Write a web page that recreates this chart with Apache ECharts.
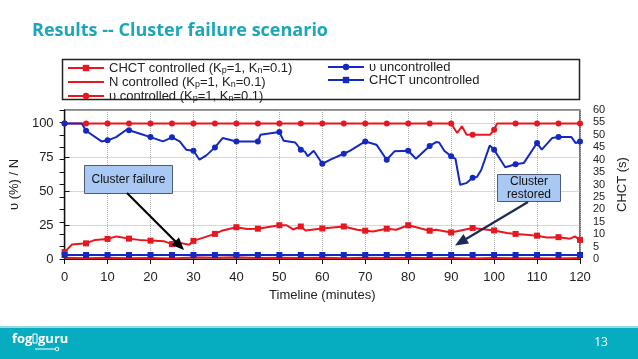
<!DOCTYPE html>
<html><head><meta charset="utf-8">
<script src="https://cdn.jsdelivr.net/npm/echarts@6/dist/echarts.min.js"></script>
<style>html,body{margin:0;padding:0;background:#fff}#c{width:638px;height:359px}</style>
</head><body><div id="c"></div>
<script>
// ---- data ----
const xTicks = [0,10,20,30,40,50,60,70,80,90,100,110,120];
// CHCT controlled (s, right axis)
const chctControlled = [[0,2.8],[1.7,5.8],[5,6.3],[7.1,7.7],[10,8.1],[12.1,9.1],[15,8.2],[17.4,7.7],[20,7.4],[23.2,7.1],[25,6.0],[27.2,6.4],[29,5.7],[30,7.3],[35,10.1],[36.8,11.5],[40,12.8],[42.5,12.1],[45,12.2],[50,13.6],[51.7,13.6],[53.2,11.9],[55,13.1],[56.1,11.5],[60,12.3],[65,13.1],[68.1,11.8],[70,11.4],[71.8,11.1],[75,12.2],[77.2,11.8],[80,13.6],[81.4,13.0],[85,11.4],[86.5,11.8],[90,10.7],[95,12.5],[100,11.5],[103,10.5],[105,10.1],[107.5,9.8],[110,9.4],[112.3,8.7],[115,8.8],[117.7,8.2],[118.8,9.1],[120,7.7]];
// N controlled (left axis)
const nControlled = [[0,1],[5,0.5],[10,1],[15,0.5],[20,0.8],[25,0.3],[30,1.2],[35,1],[40,1.3],[45,0.8],[50,1],[55,0.8],[60,1],[65,0.6],[70,1],[75,0.7],[80,1],[85,0.6],[90,0.8],[95,0.3],[100,0.8],[105,0.5],[110,0.6],[115,0.3],[120,0.8]];
// υ controlled (%, left axis)
const uControlled = [[0,100],[5,100],[10,100],[15,100],[20,100],[25,100],[30,100],[35,100],[40,100],[45,100],[50,100],[55,100],[60,100],[65,100],[70,100],[75,100],[80,100],[85,100],[90,100],[91.4,93],[92.5,98],[93.6,91.7],[95,91.7],[99,91.7],[100,95.4],[100.7,100],[105,100],[110,100],[115,100],[120,100]];
// υ uncontrolled (%, left axis)
const uUncontrolled = [[0,100],[4,100],[5,94.7],[8.6,86.8],[10,87.6],[12,90],[14.4,95.4],[15,95],[17.4,92.6],[20,90],[22.9,86.8],[25,89.8],[26.8,86.8],[28.3,80.7],[30,79.9],[31.4,73.3],[33,76.5],[35,82.4],[36.8,89.3],[40,86.8],[45,86.8],[45.6,91.7],[50,93.7],[51,87.3],[53.7,86],[55,80.7],[56,79],[56.6,75.8],[58,79.9],[60,70.3],[62,73.5],[65,77.7],[66.4,79.9],[70,86.8],[72.6,84.4],[75,73.3],[76.8,79.5],[80,79.9],[81.8,74],[85,83.5],[86.5,86.3],[87.2,86],[88.4,79.9],[90,75.8],[91,74],[92.1,54.8],[93.5,56],[95,60],[96,60.5],[97,65.7],[99,83.9],[100,80.7],[102.6,67.7],[105,70],[106.9,70.8],[110,85.6],[111.1,80.7],[113.5,89.3],[115,90],[118,90],[119,85.6],[120,86.8]];
// CHCT uncontrolled (s, right axis)
const chctUncontrolled = [[0,1.6],[5,1.6],[10,1.6],[15,1.6],[20,1.6],[25,1.6],[30,1.6],[35,1.6],[40,1.6],[45,1.6],[50,1.6],[55,1.6],[60,1.6],[65,1.6],[70,1.6],[75,1.6],[80,1.6],[85,1.6],[90,1.6],[95,1.6],[100,1.6],[105,1.6],[110,1.6],[115,1.6],[120,1.6]];
const leftTicks = [0,25,50,75,100];
const rightTicks = [0,5,10,15,20,25,30,35,40,45,50,55,60];

const names = ['CHCT controlled (Kp=1, Kn=0.1)','N controlled (Kp=1, Kn=0.1)','υ controlled (Kp=1, Kn=0.1)','υ uncontrolled','CHCT uncontrolled'];

// ---- chart ----
const RED = '#e8171f', BLUE = '#1429c2';
const FF = 'Liberation Sans';
const chart = echarts.init(document.getElementById('c'), null, {renderer:'canvas'});
const markSize = v => (Math.abs(v[0] % 5) < 1e-9 ? 6 : 0);
function lineSeries(name, data, color, symbol, yIdx){
  return {name, type:'line', data, yAxisIndex:yIdx, xAxisIndex:0,
    symbol, symbolSize: symbol==='none'?0:markSize, showSymbol: symbol!=='none',
    lineStyle:{color, width:2}, itemStyle:{color}, animation:false, z: 3};
}
const legendFmt = n => n.replace('Kp','K{s|p}').replace('Kn','K{s|n}');
const legendText = {fontSize:13, color:'#222', fontFamily:FF, lineHeight:14,
  rich:{s:{fontSize:9, fontFamily:FF, color:'#222', verticalAlign:'bottom', lineHeight:14, padding:[6,0,0,0]}}};

const option = {
  backgroundColor:'#fff',
  animation:false,
  title:{text:'Results -- Cluster failure scenario', left:27, top:17,
    textStyle:{fontSize:18, fontWeight:'bold', color:'#1ca6b9', fontFamily:'Open Sans'}},
  legend:[
    {data:[names[0], {name:names[1], itemStyle:{opacity:0}}, names[2]], orient:'vertical', left:67, top:60, padding:0,
     itemWidth:36, itemHeight:8, itemGap:-1,
     formatter:legendFmt, textStyle:legendText, selectedMode:false},
    {data:names.slice(3), orient:'vertical', left:327, top:60, padding:0, itemWidth:36, itemHeight:8, itemGap:-1,
     formatter:legendFmt, textStyle:legendText, selectedMode:false}
  ],
  grid:{left:61, right:58, top:110, height:149, show:true, borderColor:'#111', borderWidth:1.2, backgroundColor:'transparent'},
  xAxis:[
    {type:'value', min:0, max:120, interval:10, position:'bottom',
     axisLine:{show:true, lineStyle:{color:'#111', width:1.2}},
     axisTick:{show:true, inside:true, length:5, lineStyle:{color:'#111'}},
     axisLabel:{fontSize:13, color:'#222', fontFamily:FF, margin:12},
     splitLine:{show:true, lineStyle:{type:'dotted', color:'#b0b0b0', width:1}},
     name:'Timeline (minutes)', nameLocation:'middle', nameGap:30,
     nameTextStyle:{fontSize:13, color:'#222', fontFamily:FF}},
    {type:'value', min:0, max:120, interval:10, position:'top',
     axisLine:{show:true, lineStyle:{color:'#111', width:1.2}},
     axisTick:{show:true, inside:true, length:5, lineStyle:{color:'#111'}},
     axisLabel:{show:false}, splitLine:{show:false}}
  ],
  yAxis:[
    {type:'value', min:0, max:110, interval:25, position:'left',
     axisLine:{show:true, lineStyle:{color:'#111', width:1.2}},
     axisTick:{show:true, inside:true, length:5, lineStyle:{color:'#111'}},
     axisLabel:{fontSize:13, color:'#222', fontFamily:FF, margin:11, showMaxLabel:false,
       formatter: v => leftTicks.includes(v) ? String(v) : ''},
     splitLine:{show:true, lineStyle:{type:'dotted', color:'#b0b0b0', width:1}},
     name:'υ (%) / N', nameLocation:'middle', nameGap:32, nameRotate:90,
     nameTextStyle:{fontSize:13, color:'#222', fontFamily:FF}},
    {type:'value', min:0, max:60, interval:5, position:'right',
     axisLine:{show:true, lineStyle:{color:'#111', width:1.2}},
     axisTick:{show:true, inside:true, length:5, lineStyle:{color:'#111'}},
     axisLabel:{fontSize:11, color:'#222', fontFamily:FF, margin:13,
       formatter: v => rightTicks.includes(v) ? String(v) : ''},
     splitLine:{show:false},
     name:'CHCT (s)', nameLocation:'middle', nameGap:34, nameRotate:90,
     nameTextStyle:{fontSize:13, color:'#222', fontFamily:FF}}
  ],
  series:[
    lineSeries(names[0], chctControlled, RED, 'rect', 1),
    lineSeries(names[1], nControlled, RED, 'none', 0),
    lineSeries(names[2], uControlled, RED, 'circle', 0),
    lineSeries(names[3], uUncontrolled, BLUE, 'circle', 0),
    lineSeries(names[4], chctUncontrolled, BLUE, 'rect', 1)
  ],
  graphic:[
    {type:'rect', shape:{x:62.5, y:59.5, width:517, height:40}, style:{fill:'none', stroke:'#222', lineWidth:1.5}, z:1},
    // annotation: cluster failure
    {type:'rect', shape:{x:84.5, y:165.5, width:88, height:28}, style:{fill:'#a9c8f3', stroke:'#4b5b78', lineWidth:1}, z:10},
    {type:'text', x:128.5, y:179.5, style:{text:'Cluster failure', font:'12px "Liberation Sans"', fill:'#111', align:'center', verticalAlign:'middle'}, z:11},
    {type:'line', shape:{x1:127, y1:193, x2:176, y2:242}, style:{stroke:'#000', lineWidth:2.2}, z:10},
    {type:'polygon', shape:{points:[[184,250],[171.5,245],[179,237.5]]}, style:{fill:'#000'}, z:10},
    // annotation: cluster restored
    {type:'rect', shape:{x:497.5, y:174.5, width:63, height:27}, style:{fill:'#a9c8f3', stroke:'#4b5b78', lineWidth:1}, z:10},
    {type:'text', x:529, y:182, style:{text:'Cluster', font:'12px "Liberation Sans"', fill:'#111', align:'center', verticalAlign:'middle'}, z:11},
    {type:'text', x:529, y:195, style:{text:'restored', font:'12px "Liberation Sans"', fill:'#111', align:'center', verticalAlign:'middle'}, z:11},
    {type:'line', shape:{x1:528, y1:202, x2:466, y2:239}, style:{stroke:'#1f2a52', lineWidth:2.2}, z:10},
    {type:'polygon', shape:{points:[[455,245.5],[469,243.5],[463.5,234]]}, style:{fill:'#1f2a52'}, z:10},
    // footer
    {type:'rect', shape:{x:0, y:326, width:638, height:2}, style:{fill:'#9adbe3'}, z:1},
    {type:'rect', shape:{x:0, y:328, width:638, height:31}, style:{fill:'#06adc0'}, z:1},
    {type:'text', x:12, y:339, style:{text:'fog', font:'bold 13px "Open Sans"', fill:'#fff', verticalAlign:'middle'}, z:2},
    {type:'rect', shape:{x:33, y:334, width:4, height:9}, style:{fill:'none', stroke:'#fff', lineWidth:1}, z:2},
    {type:'text', x:38, y:339, style:{text:'guru', font:'bold 13px "Open Sans"', fill:'#fff', verticalAlign:'middle'}, z:2},
    {type:'line', shape:{x1:35, y1:349, x2:55, y2:349}, style:{stroke:'#fff', lineWidth:1}, z:2},
    {type:'circle', shape:{cx:57, cy:349, r:1.8}, style:{fill:'none', stroke:'#fff', lineWidth:1}, z:2},
    {type:'text', x:601, y:343, style:{text:'13', font:'12px "Open Sans"', fill:'#fff', align:'center', verticalAlign:'middle'}, z:2}
  ]
};
chart.setOption(option);
</script></body></html>
